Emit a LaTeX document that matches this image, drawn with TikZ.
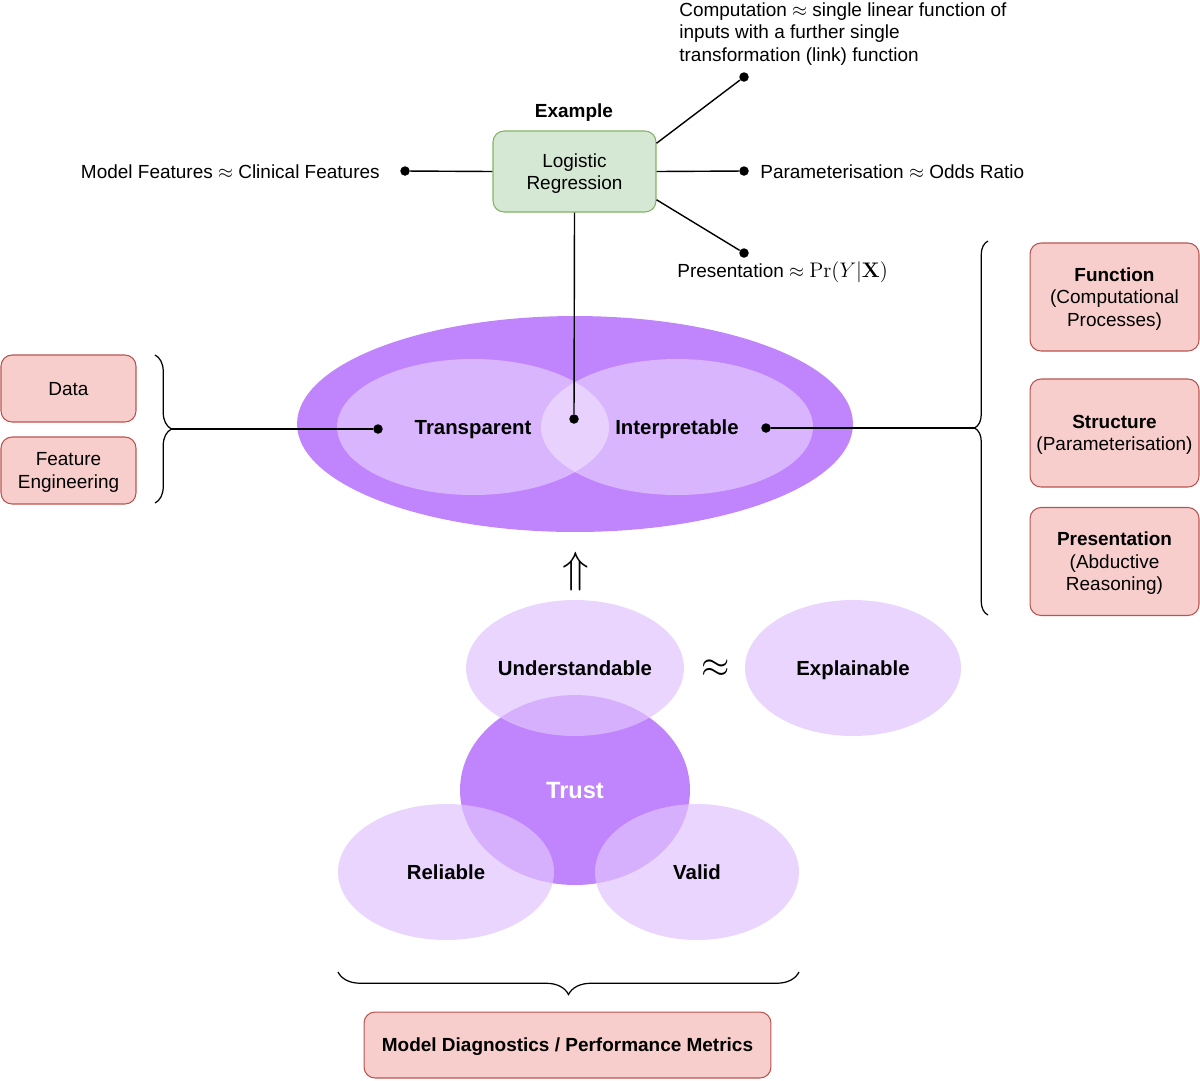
\documentclass[tikz,border=0pt]{standalone}
\usepackage[no-math]{fontspec}
\setmainfont{Liberation Sans}
\usetikzlibrary{shapes.geometric,decorations.pathreplacing}

\definecolor{lilac}{HTML}{C084FC}
\definecolor{paleLilac}{HTML}{E0C3FD}
\definecolor{boxRed}{HTML}{F8CECC}
\definecolor{lineRed}{HTML}{B85450}
\definecolor{boxGreen}{HTML}{D5E8D4}
\definecolor{lineGreen}{HTML}{82B366}

\begin{document}
\begin{tikzpicture}[x=0.02cm,y=-0.02cm]

    % Styles
    \tikzstyle{redbox} = [rectangle, rounded corners=0.22cm, draw=lineRed, fill=boxRed, line width=0.6pt, align=center, text depth=0pt, font=\fontsize{10.8}{12.8}\selectfont]
    \tikzstyle{greenbox} = [rectangle, rounded corners=0.22cm, draw=lineGreen, fill=boxGreen, line width=0.6pt, align=center, text depth=0pt, font=\fontsize{10.8}{12.6}\selectfont]
    \tikzstyle{blob} = [ellipse, inner sep=0pt, text depth=0pt, font=\fontsize{11.6}{14}\selectfont\bfseries]
    \tikzstyle{palebox} = [blob, fill=paleLilac, fill opacity=0.7, text opacity=1, minimum width=4.32cm, minimum height=2.72cm]
    \tikzstyle{note} = [inner sep=0pt, font=\fontsize{10.8}{12.8}\selectfont]
    \tikzstyle{dot} = [circle, fill=black, inner sep=0pt, minimum size=0.19cm]
    \tikzstyle{wire} = [line width=0.8pt]
    \tikzstyle{curly} = [line width=0.7pt, decorate]

    \useasboundingbox (0,0) rectangle (1200,1080);

    % Logistic regression example
    \node (example) [note, text depth=0pt, font=\fontsize{10.8}{13}\selectfont\bfseries] at (574,111) {Example};
    \node (logreg) [greenbox, minimum width=3.26cm, minimum height=1.62cm] at (574.5,171.5) {Logistic\\Regression};

    \node (d-feat) [dot] at (405,171) {};
    \node (d-param) [dot] at (744,171) {};
    \node (d-comp) [dot] at (744,77) {};
    \node (d-pres) [dot] at (744,253) {};

    \node (t-feat) [note, anchor=east] at (380,172) {Model Features $\approx$ Clinical Features};
    \node (t-param) [note, anchor=west] at (760,172) {Parameterisation $\approx$ Odds Ratio};
    \node (t-comp) [note, anchor=north west, align=left] at (679,2) {Computation $\approx$ single linear function of\\inputs with a further single\\transformation (link) function};
    \node (t-pres) [note, anchor=west] at (677,272) {Presentation $\approx$ {\fontsize{12.6}{14}\selectfont$\Pr(Y|\mathbf{X})$}};

    % Transparent / interpretable
    \node (outer) [ellipse, fill=lilac, minimum width=11.12cm, minimum height=4.32cm] at (575,424) {};
    \node (transp) [blob, fill=white, fill opacity=0.4, text opacity=1, minimum width=5.44cm, minimum height=2.72cm] at (473,427) {Transparent};
    \node (interp) [blob, fill=white, fill opacity=0.4, text opacity=1, minimum width=5.44cm, minimum height=2.72cm] at (677,427) {Interpretable};

    \node (d-mid) [dot] at (574,419) {};
    \node (d-trans) [dot] at (378,429) {};
    \node (d-interp) [dot] at (766,428) {};

    % Left side
    \node (data) [redbox, minimum width=2.7cm, minimum height=1.34cm] at (68.5,388.5) {Data};
    \node (feateng) [redbox, minimum width=2.7cm, minimum height=1.34cm] at (68.5,470.5) {Feature\\Engineering};
    \draw [curly, decoration={brace, amplitude=0.33cm}] (155,355) -- (155,503);
    \coordinate (lbrace) at (171,429);

    % Right side
    \node (function) [redbox, minimum width=3.38cm, minimum height=2.16cm] at (1114.5,297) {\textbf{Function}\\(Computational\\Processes)};
    \node (structure) [redbox, minimum width=3.38cm, minimum height=2.16cm] at (1114.5,433) {\textbf{Structure}\\(Parameterisation)};
    \node (presentation) [redbox, minimum width=3.38cm, minimum height=2.16cm] at (1114.5,561.5) {\textbf{Presentation}\\(Abductive\\Reasoning)};
    \draw [curly, decoration={brace, amplitude=0.27cm}] (988,615) -- (988,241);
    \coordinate (rbrace) at (975,428);

    % Connectors
    \draw [wire] (logreg.west) -- (d-feat);
    \draw [wire] (logreg.east) -- (d-param);
    \draw [wire] (logreg.19) -- (d-comp);
    \draw [wire] (logreg.-19) -- (d-pres);
    \draw [wire] (logreg.south) -- (d-mid);
    \draw [wire] (lbrace) -- (d-trans);
    \draw [wire] (d-interp) -- (rbrace);

    % Trust
    \node (implies) at (576,572) {\fontsize{33}{36}\selectfont$\Uparrow$};
    \node (trust) [blob, fill=lilac, text=white, minimum width=4.6cm, minimum height=3.8cm, font=\fontsize{13.4}{16}\selectfont\bfseries] at (575,790) {Trust};
    \node (underst) [palebox] at (575,668) {Understandable};
    \node (explain) [palebox] at (853,668) {Explainable};
    \node (approx) at (716,669) {\fontsize{22}{24}\selectfont$\approx$};
    \node (reliable) [palebox] at (446,872) {Reliable};
    \node (valid) [palebox, minimum width=4.08cm] at (697,872) {Valid};

    % Diagnostics
    \draw [curly, decoration={brace, amplitude=0.45cm}] (799,972) -- (338,972);
    \node (diagnostics) [redbox, minimum width=8.14cm, minimum height=1.32cm, font=\fontsize{10.8}{13}\selectfont\bfseries] at (567.5,1045) {Model Diagnostics / Performance Metrics};

\end{tikzpicture}
\end{document}
